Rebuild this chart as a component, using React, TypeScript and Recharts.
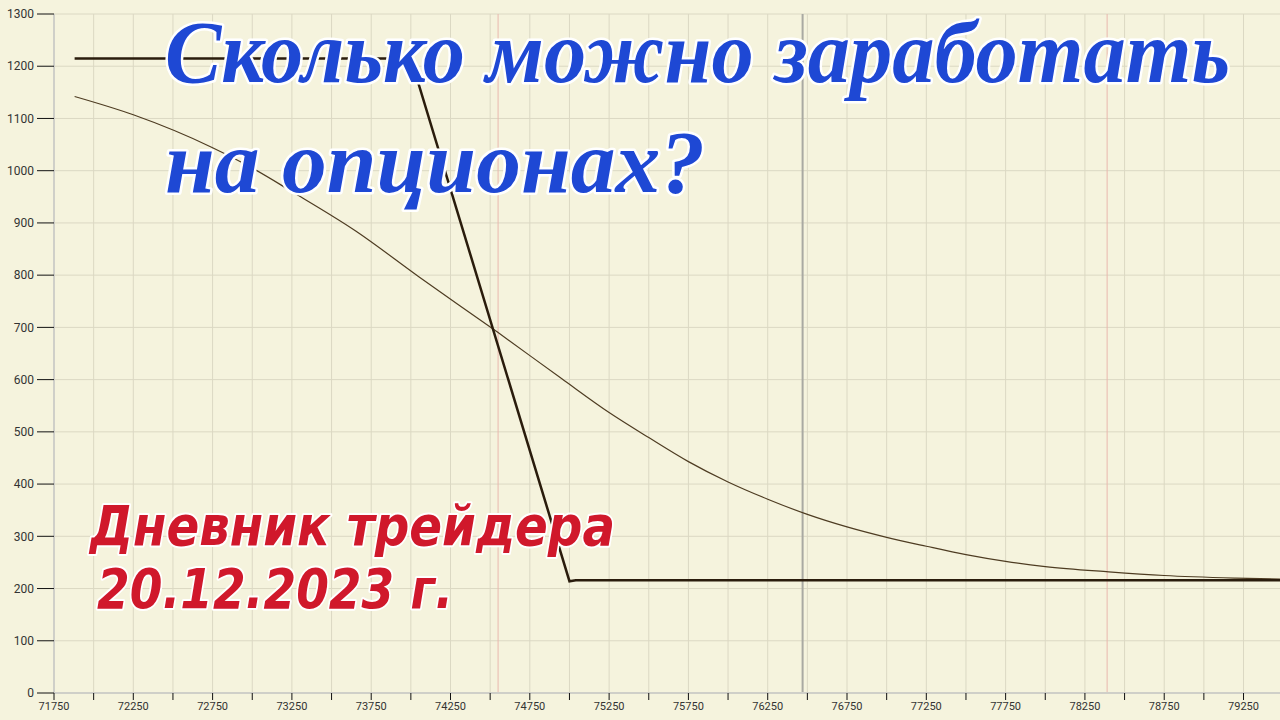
import { LineChart, Line, XAxis, YAxis, CartesianGrid, ReferenceLine } from 'recharts'

// payoff at expiration (thick line)
const payoffX = [71880, 74000, 75000, 75040, 79480]
const payoffY = [1215, 1215, 214, 216, 216]

// current value curve (thin line)
const curveX = [71880, 72250, 72750, 73000, 73250, 73650, 74050, 74550, 74950, 75250, 75500, 75750, 76000, 76250, 76500, 76750, 77000, 77250, 77500, 77750, 78000, 78400, 78750, 79200, 79480]
const curveY = [1142, 1107, 1044, 1005, 960, 885, 797, 690, 602, 537, 489, 443, 404, 371, 342, 318, 298, 281, 265, 252, 242, 232, 225, 220, 218]

const xTicks = [71750, 72000, 72250, 72500, 72750, 73000, 73250, 73500, 73750, 74000, 74250, 74500, 74750, 75000, 75250, 75500, 75750, 76000, 76250, 76500, 76750, 77000, 77250, 77500, 77750, 78000, 78250, 78500, 78750, 79000, 79250]
const xLabels = [71750, 72250, 72750, 73250, 73750, 74250, 74750, 75250, 75750, 76250, 76750, 77250, 77750, 78250, 78750, 79250]
const yTicks = [0, 100, 200, 300, 400, 500, 600, 700, 800, 900, 1000, 1100, 1200, 1300]

const spotLine = 76470
const sigmaLines = [74550, 78390]

const titleLines = ['Сколько можно заработать', 'на опционах?']
const diaryLines = ['Дневник трейдера', '20.12.2023 г.']

const payoffData = payoffX.map((x, i) => ({ x, y: payoffY[i] }))
const curveData = curveX.map((x, i) => ({ x, y: curveY[i] }))

// eslint-disable-next-line @typescript-eslint/no-explicit-any
const XTick = (props: any) => {
  const { x, y, payload } = props
  if (!xLabels.includes(payload.value)) return <g />
  return (
    <text x={x} y={y} dy="0.71em" textAnchor="middle" fontSize={11} fill="#333" fontFamily="Roboto, sans-serif">
      {payload.value}
    </text>
  )
}

export default function App() {
  return (
    <div style={{ position: 'fixed', left: 0, top: 0, width: 1280, height: 720, background: '#f5f3dd' }}>
      <LineChart width={1280} height={720} margin={{ top: 14, right: 0, bottom: 0, left: 0 }}>
        <CartesianGrid stroke="#dbd8c3" vertical horizontal verticalValues={xTicks} />
        <XAxis
          type="number"
          dataKey="x"
          domain={[71750, 79480]}
          allowDataOverflow
          ticks={xTicks}
          interval={0}
          height={27}
          tickSize={7}
          tickMargin={2}
          axisLine={{ stroke: '#cfcfc8', strokeWidth: 2 }}
          tickLine={{ stroke: '#111' }}
          tick={<XTick />}
        />
        <YAxis
          type="number"
          domain={[0, 1300]}
          ticks={yTicks}
          interval={0}
          width={54}
          tickSize={17}
          tickMargin={3}
          axisLine={{ stroke: '#cfcfc8', strokeWidth: 2 }}
          tickLine={{ stroke: '#111' }}
          tick={{ fill: '#333', fontSize: 12, fontFamily: 'Roboto, sans-serif' }}
        />
        {sigmaLines.map((v) => (
          <ReferenceLine key={v} x={v} stroke="#e9b8ae" strokeWidth={1} />
        ))}
        <ReferenceLine x={spotLine} stroke="#a9a9a2" strokeWidth={2} />
        <Line
          data={curveData}
          dataKey="y"
          type="monotone"
          stroke="#4e3c22"
          strokeWidth={1.2}
          dot={false}
          isAnimationActive={false}
        />
        <Line
          data={payoffData}
          dataKey="y"
          type="linear"
          stroke="#2a1c0c"
          strokeWidth={2.5}
          dot={false}
          isAnimationActive={false}
        />
      </LineChart>
      <svg width={1280} height={720} style={{ position: 'absolute', left: 0, top: 0, pointerEvents: 'none' }}>
        <g
          fontFamily="'Liberation Serif', serif"
          fontStyle="italic"
          fontWeight="bold"
          fontSize={88}
          fill="#1e48d4"
          stroke="#ffffff"
          strokeWidth={5}
          strokeLinejoin="round"
          paintOrder="stroke"
        >
          <text x={165} y={82} textLength={1065} lengthAdjust="spacingAndGlyphs">{titleLines[0]}</text>
          <text x={165} y={192} textLength={540} lengthAdjust="spacingAndGlyphs">{titleLines[1]}</text>
        </g>
        <g
          fontFamily="'DejaVu Sans', Verdana, sans-serif"
          fontStyle="italic"
          fontWeight="bold"
          fontSize={56}
          fill="#d0182b"
          stroke="#ffffff"
          strokeWidth={4}
          strokeLinejoin="round"
          paintOrder="stroke"
        >
          <text x={90} y={545} textLength={525} lengthAdjust="spacingAndGlyphs">{diaryLines[0]}</text>
          <text x={97} y={608} textLength={356} lengthAdjust="spacingAndGlyphs">{diaryLines[1]}</text>
        </g>
      </svg>
    </div>
  )
}
